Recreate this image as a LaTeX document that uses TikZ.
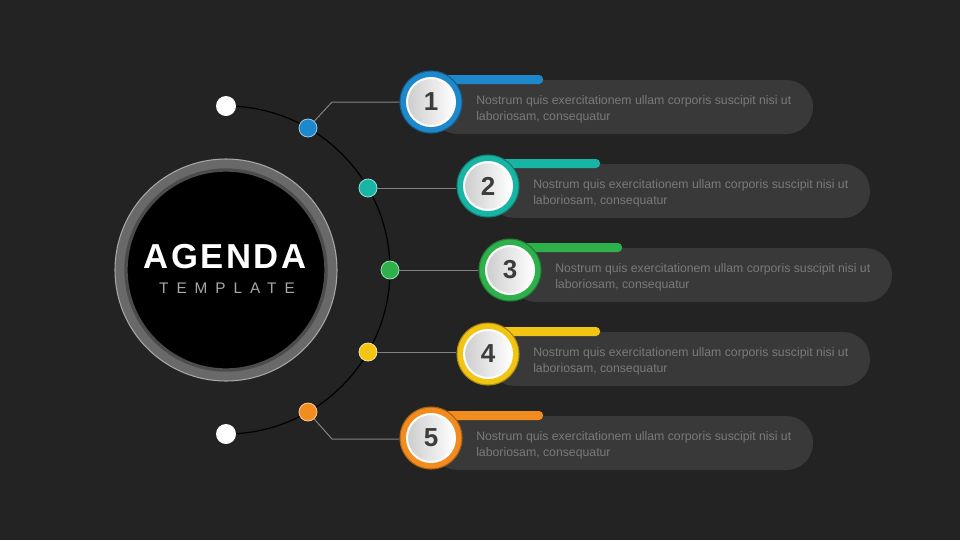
\documentclass[tikz,border=0pt]{standalone}
\usepackage{fontspec}
\usepackage{xcolor}
\setmainfont{Liberation Sans}
\newfontfamily\titlefont[LetterSpace=7]{Liberation Sans}
\newfontfamily\subtitlefont[LetterSpace=52]{Liberation Sans}

\definecolor{bggray}{RGB}{35,35,35}
\definecolor{pillgray}{RGB}{57,57,57}
\definecolor{descgray}{RGB}{122,122,122}
\definecolor{linkgray}{RGB}{130,130,130}
\definecolor{numgray}{RGB}{60,60,60}
\definecolor{discgray}{RGB}{205,205,205}
\definecolor{ringgray}{RGB}{105,105,105}
\definecolor{blueitem}{RGB}{30,136,204}
\definecolor{tealitem}{RGB}{24,181,164}
\definecolor{greenitem}{RGB}{46,177,74}
\definecolor{yellowitem}{RGB}{242,196,20}
\definecolor{orangeitem}{RGB}{242,140,30}

\begin{document}
\begin{tikzpicture}[x=0.75pt,y=0.75pt,yscale=-1,xscale=1,
  dot/.style={circle, inner sep=0pt, minimum size=13.5pt, fill=#1, draw=#1!45!white, line width=0.6pt},
  enddot/.style={circle, inner sep=0pt, minimum size=15pt, fill=white},
  numring/.style={circle, inner sep=0pt, minimum size=46.5pt, fill=#1, draw=#1!70!black, line width=0.8pt},
  numdisc/.style={circle, inner sep=0pt, minimum size=36pt, draw=white, line width=1.5pt,
    left color=discgray, right color=white, text=numgray,
    font=\fontsize{19.5}{20}\selectfont\bfseries},
  pill/.style={fill=pillgray, rounded corners=20pt},
  bar/.style={fill=#1, rounded corners=3pt},
  desc/.style={anchor=west, align=left, inner sep=0pt, text=descgray,
    font=\fontsize{9.2}{12}\selectfont},
  link/.style={draw=linkgray, line width=0.75pt}]

%Background
\fill[bggray] (0,0) rectangle (960,540);

%Shape: Arc
\coordinate (arctop) at (226,106);
\draw[black, line width=0.9pt] (arctop) arc (-90:90:164);

%Shape: Hub circle
\node[circle, inner sep=0pt, minimum size=166.5pt, fill=ringgray, draw=white!65!black, line width=0.8pt] (hub) at (226,270) {};
\node[circle, inner sep=0pt, minimum size=150pt, fill=black, draw=white!30!black, line width=2.5pt] (hubcore) at (hub) {};
% Text Node
\node[text=white, font=\titlefont\fontsize{26}{26}\selectfont\bfseries] (title) at (225,257) {AGENDA};
% Text Node
\node[text=white!66!black, font=\subtitlefont\fontsize{11.5}{12}\selectfont] (subtitle) at (227,288) {TEMPLATE};

%Shape: Arc dots
\node[enddot] (w1) at (226,106) {};
\node[enddot] (w2) at (226,434) {};
\node[dot=blueitem] (d1) at (308,128) {};
\node[dot=tealitem] (d2) at (368,188) {};
\node[dot=greenitem] (d3) at (390,270) {};
\node[dot=yellowitem] (d4) at (368,352) {};
\node[dot=orangeitem] (d5) at (308,412) {};

%Shape: Pills
\fill[pill] (431,80) rectangle (813,134);
\fill[pill] (488,164) rectangle (870,218);
\fill[pill] (510,248) rectangle (892,302);
\fill[pill] (488,332) rectangle (870,386);
\fill[pill] (431,416) rectangle (813,470);

%Shape: Bars
\fill[bar=blueitem] (431,75) rectangle (543,84);
\fill[bar=tealitem] (488,159) rectangle (600,168);
\fill[bar=greenitem] (510,243) rectangle (622,252);
\fill[bar=yellowitem] (488,327) rectangle (600,336);
\fill[bar=orangeitem] (431,411) rectangle (543,420);

%Shape: Number circles
\node[numring=blueitem] (n1) at (431,102) {};
\node[numdisc] (k1) at (n1) {1};
\node[numring=tealitem] (n2) at (488,186) {};
\node[numdisc] (k2) at (n2) {2};
\node[numring=greenitem] (n3) at (510,270) {};
\node[numdisc] (k3) at (n3) {3};
\node[numring=yellowitem] (n4) at (488,354) {};
\node[numdisc] (k4) at (n4) {4};
\node[numring=orangeitem] (n5) at (431,438) {};
\node[numdisc] (k5) at (n5) {5};

%Connectors
\coordinate (b1) at (332,102);
\coordinate (b5) at (332,439);
\draw[link] (d1) -- (b1) -- (n1);
\draw[link] (d2) -- (d2 -| n2.west);
\draw[link] (d3) -- (n3);
\draw[link] (d4) -- (d4 -| n4.west);
\draw[link] (d5) -- (b5) -- (b5 -| n5.west);

% Text Node
\node[desc] (t1) at (476,109) {Nostrum quis exercitationem ullam corporis suscipit nisi ut\\laboriosam, consequatur};
% Text Node
\node[desc] (t2) at (533,193) {Nostrum quis exercitationem ullam corporis suscipit nisi ut\\laboriosam, consequatur};
% Text Node
\node[desc] (t3) at (555,277) {Nostrum quis exercitationem ullam corporis suscipit nisi ut\\laboriosam, consequatur};
% Text Node
\node[desc] (t4) at (533,361) {Nostrum quis exercitationem ullam corporis suscipit nisi ut\\laboriosam, consequatur};
% Text Node
\node[desc] (t5) at (476,445) {Nostrum quis exercitationem ullam corporis suscipit nisi ut\\laboriosam, consequatur};

\end{tikzpicture}
\end{document}
